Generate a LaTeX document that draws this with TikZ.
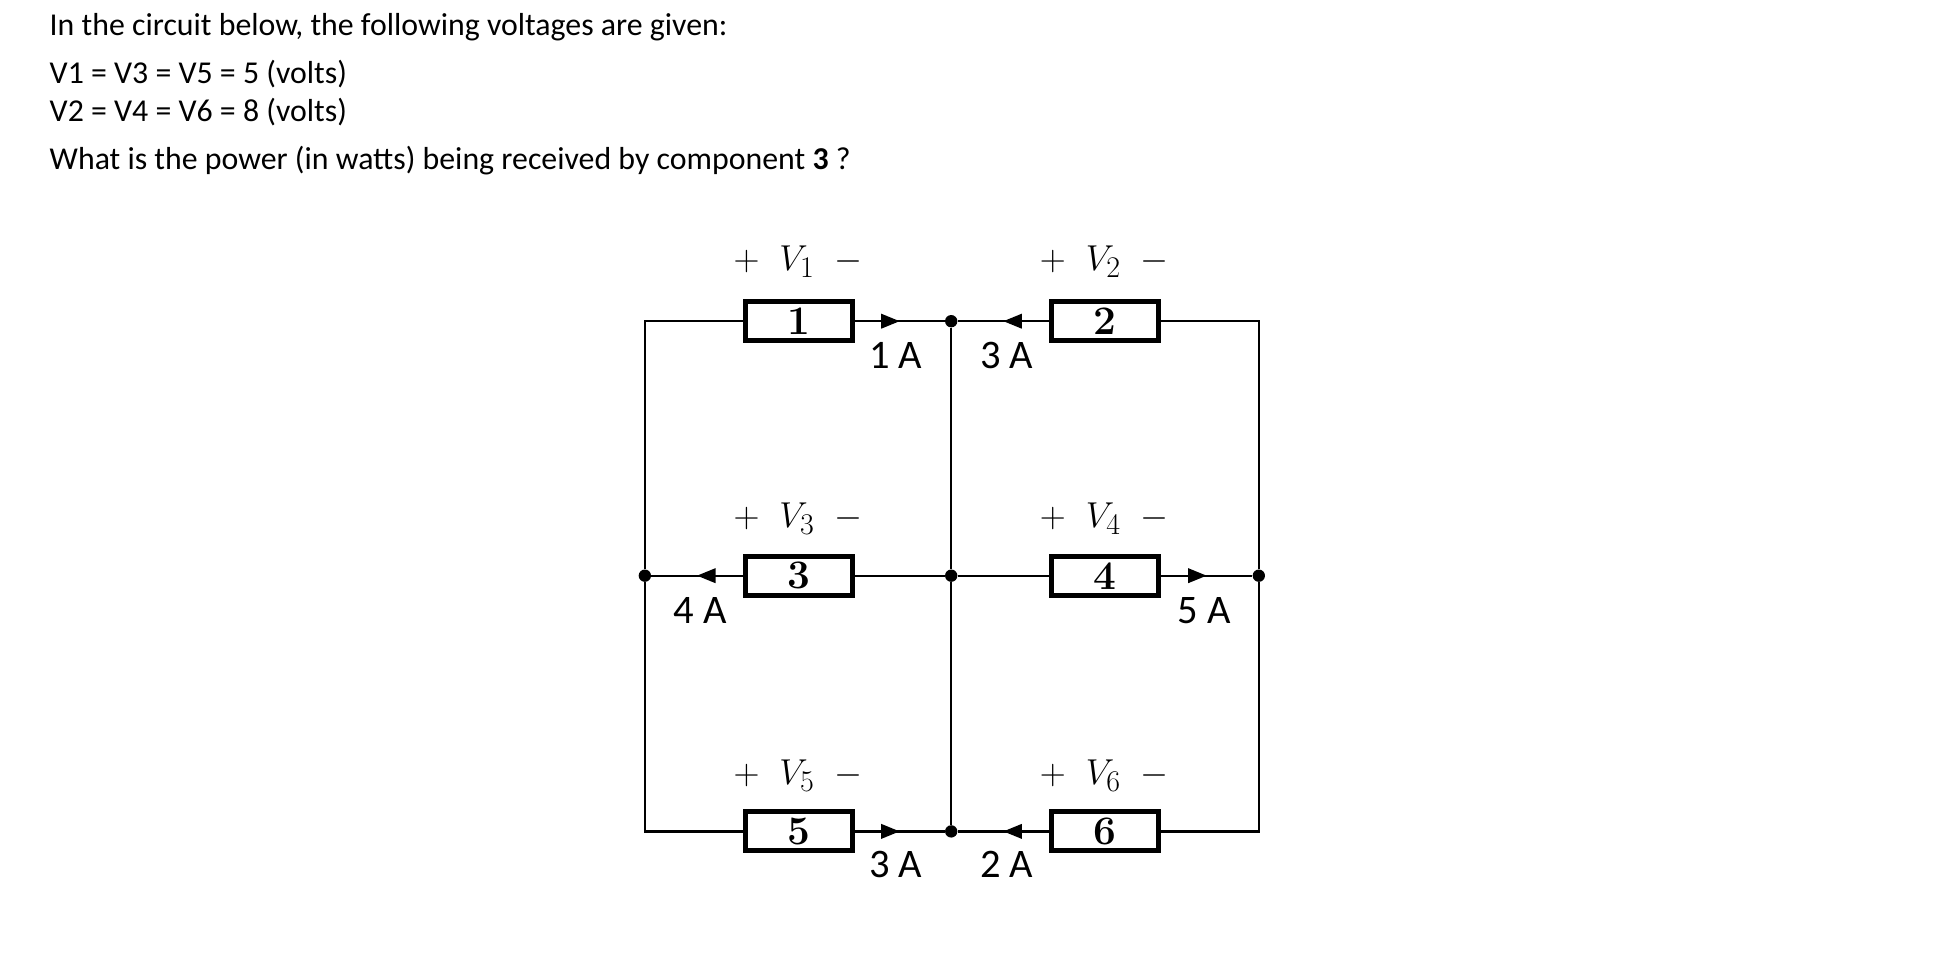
\documentclass[tikz,border=0pt]{standalone}
\usepackage{fontspec}
\setmainfont{Carlito}
\usetikzlibrary{decorations.markings,arrows.meta}
\begin{document}
\begin{tikzpicture}[x=0.03cm,y=-0.03cm,
  txt/.style={anchor=west,inner sep=0,font=\fontsize{22}{26}\selectfont},
  box/.style={draw,line width=3.4pt,minimum width=2.6cm,minimum height=0.95cm,inner sep=0,fill=white,font=\fontsize{28}{30}\selectfont\bfseries\rmfamily},
  wire/.style={line width=1.6pt},
  mlab/.style={font=\fontsize{28}{30}\selectfont\rmfamily,inner sep=0},
  dot/.style={circle,fill,inner sep=0,minimum size=0.3cm},
  arr/.style={postaction={decorate},decoration={markings,mark=at position 0.5 with {\arrow{Triangle[length=0.45cm,width=0.35cm]}}}}]
\useasboundingbox (0,0) rectangle (1568,774);
\newfontfamily\lmr{Latin Modern Roman}
\node[txt] (t1) at (40,22) {In the circuit below, the following voltages are given:};
\node[txt] (t2) at (40,60) {V1 = V3 = V5 = 5 (volts)};
\node[txt] (t3) at (40,91) {V2 = V4 = V6 = 8 (volts)};
\node[txt] (t4) at (40,130) {What is the power (in watts) being received by component \textbf{3} ?};
% coordinates
\coordinate (TL) at (522,260); \coordinate (TR) at (1019,260);
\coordinate (BL) at (522,673); \coordinate (BR) at (1019,673);
\node[dot] (TM) at (770,260) {};
\node[dot] (ML) at (522,466) {};
\node[dot] (MM) at (770,466) {};
\node[dot] (MR) at (1019,466) {};
\node[dot] (BM) at (770,673) {};
\node[box] (b1) at (646.5,260) {\lmr 1};
\node[box] (b2) at (894.5,260) {\lmr 2};
\node[box] (b3) at (646.5,466) {\lmr 3};
\node[box] (b4) at (894.5,466) {\lmr 4};
\node[box] (b5) at (646.5,673) {\lmr 5};
\node[box] (b6) at (894.5,673) {\lmr 6};
% wires
\draw[wire] (b1.west) -- (TL) -- (ML) -- (BL) -- (b5.west);
\draw[wire] (b2.east) -- (TR) -- (MR) -- (BR) -- (b6.east);
\draw[wire] (TM) -- (MM) -- (BM);
\draw[wire] (b3.east) -- (MM) -- (b4.west);
\draw[wire,arr] (b1.east) -- (TM);
\draw[wire,arr] (b2.west) -- (TM);
\draw[wire,arr] (b3.west) -- (ML);
\draw[wire,arr] (b4.east) -- (MR);
\draw[wire,arr] (b5.east) -- (BM);
\draw[wire,arr] (b6.west) -- (BM);
% labels
\foreach \n/\x/\y/\s in {v1/646/212/1,v2/894/212/2,v3/646/420/3,v4/894/420/4,v5/646/628/5,v6/894/628/6}{
  \node[mlab] (\n) at (\x,\y) {$+\;\;V_{\s}\;\;-$};
}
\node[mlab] (i1) at (725,288) {1 A};
\node[mlab] (i2) at (815,288) {3 A};
\node[mlab] (i3) at (567,494) {4 A};
\node[mlab] (i4) at (975,494) {5 A};
\node[mlab] (i5) at (725,700) {3 A};
\node[mlab] (i6) at (815,700) {2 A};
\end{tikzpicture}
\end{document}
